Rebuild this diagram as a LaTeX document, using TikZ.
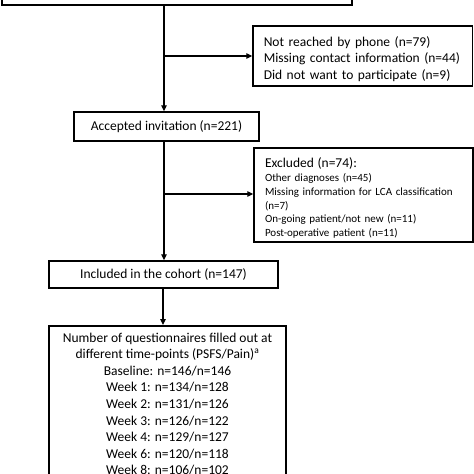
\documentclass[tikz,border=0pt]{standalone}
\usepackage{fontspec}
\setmainfont{Carlito}
\usetikzlibrary{arrows.meta}
\begin{document}
\begin{tikzpicture}[x=1pt,y=-1pt,
  box/.style={draw, line width=1.5pt, inner sep=0pt},
  conn/.style={line width=1.1pt, -{Triangle[length=6pt,width=5.5pt]}},
  mainfont/.style={font=\fontsize{13.5}{16.6}\selectfont},
  smallfont/.style={font=\fontsize{11}{13.6}\selectfont}]
\useasboundingbox (0,0) rectangle (474,474);
\clip (0,0) rectangle (474,474);
% boxes
\node[box, minimum width=350pt, minimum height=60pt, anchor=south west] (top) at (1,5.5) {};
\node[box, mainfont, minimum width=219.5pt, minimum height=60pt, text width=198pt, align=left] (rej) at (362.75,56)
  {\rule{0pt}{15.5pt}Not reached by phone (n=79)\\Missing contact information (n=44)\\Did not want to participate (n=9)};
\node[box, mainfont, minimum width=185pt, minimum height=29pt] (acc) at (166.5,126.5) {Accepted invitation (n=221)};
\node[box, smallfont, minimum width=219pt, minimum height=94pt, text width=197pt, align=left] (exc) at (363.5,195)
  {{\fontsize{13.5}{15}\selectfont\rule{0pt}{15.5pt}Excluded (n=74):}\\[1pt]Other diagnoses (n=45)\\Missing information for LCA classification\\(n=7)\\On-going patient/not new (n=11)\\Post-operative patient (n=11)};
\node[box, mainfont, minimum width=229pt, minimum height=27pt] (inc) at (163.5,274.5) {Included in the cohort (n=147)};
\node[box, mainfont, minimum width=237pt, inner ysep=7pt, anchor=north, align=center] (qs) at (167.5,325)
  {Number of questionnaires filled out at\\different time-points (PSFS/Pain)\textsuperscript{a}\\Baseline: n=146/n=146\\Week 1: n=134/n=128\\Week 2: n=131/n=126\\Week 3: n=126/n=122\\Week 4: n=129/n=127\\Week 6: n=120/n=118\\Week 8: n=106/n=102\\[20pt]};
% connectors
\coordinate (mx) at (164,0);
\coordinate (mx2) at (163,0);
\coordinate (b1) at (164,56);
\coordinate (b2) at (164,194);
\draw[conn] (top.south -| mx) -- (acc.north -| mx);
\draw[conn] (b1) -- (rej.west |- b1);
\draw[conn] (acc.south -| mx) -- (inc.north -| mx);
\draw[conn] (b2) -- (exc.west |- b2);
\draw[conn] (inc.south -| mx2) -- (qs.north -| mx2);
\end{tikzpicture}
\end{document}
